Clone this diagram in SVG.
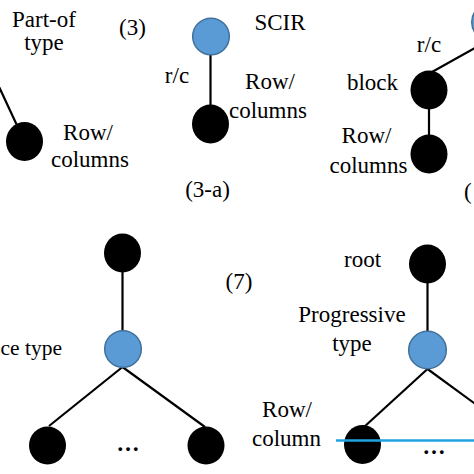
<svg xmlns="http://www.w3.org/2000/svg" width="474" height="474" viewBox="0 0 474 474">
<style>
text{font-family:'Liberation Serif','DejaVu Serif',serif;font-size:23px;fill:#000;text-anchor:middle}
.e{stroke:#000;stroke-width:2.2;fill:none}
.k{fill:#000}
.b{fill:#5b9bd5;stroke:#41719c;stroke-width:1.5}
.dots{font-weight:bold;letter-spacing:2px}
</style>
<rect width="474" height="474" fill="#fff"/>
<g id="connectors">
<line class="e" x1="-20" y1="46" x2="24.5" y2="141.5"/>
<line class="e" x1="210.5" y1="36" x2="210.5" y2="124"/>
<line class="e" x1="432" y1="72" x2="482" y2="44"/>
<line class="e" x1="429" y1="90" x2="429" y2="154"/>
<line class="e" x1="122.5" y1="253" x2="122.5" y2="349"/>
<line class="e" x1="122.5" y1="367" x2="49" y2="426"/>
<line class="e" x1="122.5" y1="367" x2="205" y2="427"/>
<line class="e" x1="427.5" y1="264" x2="427.5" y2="350"/>
<line class="e" x1="427.5" y1="369" x2="364" y2="427"/>
<line class="e" x1="427.5" y1="369" x2="500" y2="422"/>
</g>
<g id="n1"><ellipse class="k" cx="24.5" cy="141.5" rx="18.5" ry="19.5"/></g>
<g id="n2"><circle class="b" cx="211" cy="36.5" r="18.3"/></g>
<g id="n3"><ellipse class="k" cx="210.5" cy="124" rx="18.5" ry="19.5"/></g>
<g id="n4"><circle class="b" cx="490" cy="22" r="18.3"/></g>
<g id="n5"><ellipse class="k" cx="429" cy="90" rx="18.5" ry="19.5"/></g>
<g id="n6"><ellipse class="k" cx="429" cy="154" rx="18.5" ry="19.5"/></g>
<g id="n7"><ellipse class="k" cx="122.5" cy="253" rx="18.5" ry="19.5"/></g>
<g id="n8"><circle class="b" cx="123" cy="349" r="18.3"/></g>
<g id="n9"><ellipse class="k" cx="47.5" cy="445.5" rx="18.5" ry="19"/></g>
<g id="n10"><ellipse class="k" cx="206" cy="445.5" rx="18.5" ry="19"/></g>
<g id="n11"><ellipse class="k" cx="427.5" cy="264" rx="18.5" ry="19.5"/></g>
<g id="n12"><circle class="b" cx="427.5" cy="350" r="18.8"/></g>
<g id="n13"><ellipse class="k" cx="362.5" cy="444.5" rx="18.5" ry="19.5"/></g>
<line x1="336" y1="440.5" x2="474" y2="440.5" stroke="#1ea3e3" stroke-width="2.5"/>
<g id="labels">
<text x="44" y="27">Part-of</text>
<text x="44" y="50">type</text>
<text x="132.5" y="35">(3)</text>
<text x="88" y="140">Row/</text>
<text x="90" y="167">columns</text>
<text x="280" y="30">SCIR</text>
<text x="177" y="83">r/c</text>
<text x="270" y="89">Row/</text>
<text x="268" y="118">columns</text>
<text x="207.5" y="197">(3-a)</text>
<text x="429" y="52">r/c</text>
<text x="372.5" y="90">block</text>
<text x="366.5" y="143">Row/</text>
<text x="368.5" y="173">columns</text>
<text x="464" y="199" style="text-anchor:start">(</text>
<text x="0.5" y="355" style="text-anchor:start;font-size:21.5px">ce type</text>
<text x="239" y="289">(7)</text>
<text class="dots" x="129" y="451">…</text>
<text x="362.5" y="267">root</text>
<text x="352" y="322">Progressive</text>
<text x="352" y="351">type</text>
<text x="287" y="417">Row/</text>
<text x="286.5" y="446">column</text>
<text class="dots" x="435" y="454">…</text>
</g>
</svg>
